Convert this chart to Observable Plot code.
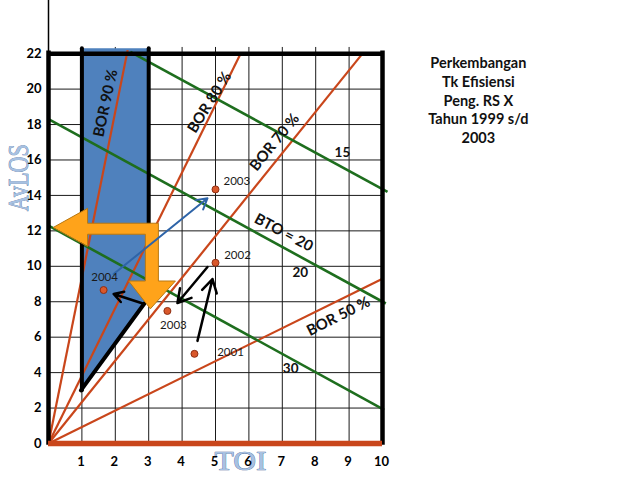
<!DOCTYPE html>
<html><head><meta charset="utf-8">
<script src="https://cdn.jsdelivr.net/npm/d3@7"></script>
<script src="https://cdn.jsdelivr.net/npm/@observablehq/plot@0.6"></script>
<style>body{margin:0;background:#fff}</style>
</head><body><div id="chart"></div><script>
// Axis ticks
const toiTicks = [1,2,3,4,5,6,7,8,9,10];
const avlosTicks = [0,2,4,6,8,10,12,14,16,18,20,22];
const gridX = [1,2,3,4,5,6,7,8,9];
const gridY = [2,4,6,8,10,12,14,16,18,20];

// BOR lines (from origin to read end point)
const borNames = ["BOR 90 %","BOR 80 %","BOR 70 %","BOR 50 %"];
const borEndX = [2.37, 5.75, 9.4, 10];
const borEndY = [22.2, 22, 22, 9.3];
const borLabelX = [1.71, 4.82, 6.77, 8.68];
const borLabelY = [19.2, 19.25, 17.0, 7.17];
const borLabelAngle = [-78, -58, -51, -27];

// BTO lines
const btoNames = ["15","20","30"];
const btoX1 = [2.45, 0, 0];
const btoY1 = [22.1, 18.3, 12.3];
const btoX2 = [10.15, 10.1, 10.05];
const btoY2 = [14.2, 7.9, 1.9];
const btoLabelX = [8.8, 7.54, 7.25];
const btoLabelY = [16.4, 9.65, 4.23];

// Yearly points
const years = ["2001","2002","2003","2003","2004"];
const toi = [4.37, 5.0, 3.56, 5.0, 1.65];
const avlos = [5.06, 10.2, 7.48, 14.34, 8.66];
const yearLabelX = [5.45, 5.66, 3.74, 5.64, 1.68];
const yearLabelY = [5.13, 10.6, 6.66, 14.79, 9.37];

// Movement arrows
const moveX1 = [4.46, 4.76, 2.87];
const moveY1 = [5.79, 9.96, 7.87];
const moveX2 = [4.91, 3.86, 1.95];
const moveY2 = [9.28, 7.93, 8.44];
const trendX1 = [1.95], trendY1 = [9.56], trendX2 = [4.76], trendY2 = [13.84];

// Efficient area (blue) and its edges
const areaX = [1, 3, 3, 2.85, 1];
const areaY = [22.3, 22.3, 8.2, 7.85, 3.05];
const edgeX = [1, 1, 0.97, 2.87, 3, 3];
const edgeY = [22.3, 3.0, 3.0, 7.9, 22.3, 8.3];
const edgeId = ["a","a","b","b","c","c"];

// Bent orange arrow
const bentX = [0.15, 1.17, 1.17, 3.29, 3.29, 3.8, 3.05, 2.4, 2.9, 2.9, 1.17, 1.17];
const bentY = [12.2, 13.27, 12.43, 12.43, 9.17, 9.17, 7.6, 9.17, 9.17, 11.81, 11.81, 11.14];

const title = ["Perkembangan","Tk Efisiensi","Peng. RS X","Tahun 1999 s/d","2003"];

const idx = a => a.map((_, i) => i);
const RED = "#C9461B", GREEN = "#1E6E1E";

const chart = Plot.plot({
  width: 638, height: 478,
  marginLeft: 48, marginRight: 256, marginTop: 0, marginBottom: 35,
  x: {domain: [0, 10]},
  y: {domain: [0, 25]},
  style: {fontFamily: "Lato, 'Open Sans', sans-serif", background: "#fff"},
  marks: [
    // WordArt-like axis titles
    Plot.text(["AvLOS"], {x: -0.9, y: 15.0, text: d => d, rotate: -90, fontFamily: "'Liberation Serif', serif", fontSize: 30, fill: "#A7C1E2", stroke: "#4E6F9E", strokeWidth: 0.7}),
    Plot.text(["TOI"], {x: 5.75, y: -1.0, text: d => d, fontFamily: "'Liberation Serif', serif", fontSize: 27, fill: "#A7C1E2", stroke: "#4E6F9E", strokeWidth: 0.7}),
    // grid
    Plot.ruleX(gridX, {x: d => d, y1: 0, y2: 22.35, stroke: "#1a1a1a", strokeWidth: 1}),
    Plot.ruleY(gridY, {y: d => d, x1: 0, x2: 10, stroke: "#1a1a1a", strokeWidth: 1}),
    // blue area
    Plot.line(idx(areaX), {x: i => areaX[i], y: i => areaY[i], curve: "linear-closed", fill: "#4F81BD", stroke: "none"}),
    // BOR lines
    Plot.link(idx(borEndX), {x1: 0, y1: 0, x2: i => borEndX[i], y2: i => borEndY[i], stroke: RED, strokeWidth: 2.2}),
    // BTO lines
    Plot.link(idx(btoX1), {x1: i => btoX1[i], y1: i => btoY1[i], x2: i => btoX2[i], y2: i => btoY2[i], stroke: GREEN, strokeWidth: 2.6}),
    // frame
    Plot.ruleX([0], {y1: 0, y2: 25, stroke: "#000", strokeWidth: 1.5}),
    Plot.ruleX([0], {y1: -0.1, y2: 22.15, stroke: "#000", strokeWidth: 4.5}),
    Plot.ruleY([22], {x1: 0, x2: 10.05, stroke: "#000", strokeWidth: 4.5}),
    Plot.ruleX([10], {y1: -0.1, y2: 22.15, stroke: "#000", strokeWidth: 4.5}),
    Plot.ruleY([0], {x1: 0, x2: 10, stroke: RED, strokeWidth: 5.5}),
    // area edges
    Plot.line(idx(edgeX), {x: i => edgeX[i], y: i => edgeY[i], z: i => edgeId[i], stroke: "#000", strokeWidth: 4}),
    // bent orange arrow
    Plot.line(idx(bentX), {x: i => bentX[i], y: i => bentY[i], curve: "linear-closed", fill: "#FFA31A", stroke: "#B87812", strokeWidth: 1}),
    // trend arrow
    Plot.arrow(idx(trendX1), {x1: i => trendX1[i], y1: i => trendY1[i], x2: i => trendX2[i], y2: i => trendY2[i], stroke: "#2E64A8", strokeWidth: 2, headLength: 9}),
    // movement arrows
    Plot.arrow(idx(moveX1), {x1: i => moveX1[i], y1: i => moveY1[i], x2: i => moveX2[i], y2: i => moveY2[i], stroke: "#000", strokeWidth: 2.5, headLength: 9}),
    // points
    Plot.dot(idx(toi), {x: i => toi[i], y: i => avlos[i], r: 3.5, fill: "#D9582B", stroke: "#8E2E12", strokeWidth: 1}),
    Plot.text(idx(years), {x: i => yearLabelX[i], y: i => yearLabelY[i], text: i => years[i], fontSize: 11.5, fill: "#1a1a1a"}),
    // labels
    Plot.text(idx(borNames), {x: i => borLabelX[i], y: i => borLabelY[i], text: i => borNames[i], rotate: i => borLabelAngle[i], fontSize: 15, fontWeight: "bold", fill: "#111"}),
    Plot.text(["BTO = 20"], {x: 7.04, y: 11.9, text: d => d, rotate: 28, fontSize: 15, fontWeight: "bold", fill: "#111"}),
    Plot.text(idx(btoNames), {x: i => btoLabelX[i], y: i => btoLabelY[i], text: i => btoNames[i], fontSize: 13.5, fontWeight: "bold", fill: "#111"}),
    // axes
    Plot.axisY(avlosTicks, {tickSize: 0, tickPadding: 7, fontSize: 13, fontWeight: "bold", label: null}),
    Plot.axisX(toiTicks, {tickSize: 0, tickPadding: 13, fontSize: 13, fontWeight: "bold", label: null, dx: -1}),
    // title block
    Plot.text([title.join("\n")], {x: 12.87, y: 19.41, text: d => d, lineAnchor: "middle", lineHeight: 1.28, fontSize: 14.5, fontWeight: "bold", fill: "#111"})
  ]
});
document.getElementById("chart").append(chart);
d3.select(chart).selectAll("text").each(function() {
  const t = this.textContent;
  if (t === "AvLOS") d3.select(this).attr("textLength", 67).attr("lengthAdjust", "spacingAndGlyphs");
  if (t === "TOI") d3.select(this).attr("textLength", 52).attr("lengthAdjust", "spacingAndGlyphs");
});
</script></body></html>
